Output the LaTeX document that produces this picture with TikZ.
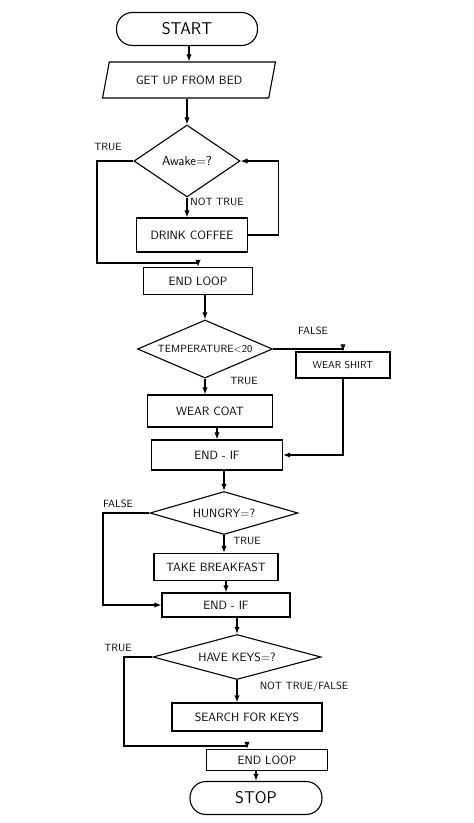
\documentclass[tikz,border=0pt]{standalone}
\usepackage{tikz}
\usetikzlibrary{arrows.meta,shapes.geometric}

\begin{document}
\begin{tikzpicture}[
    x=1pt, y=-1pt,
    box/.style={
        draw,
        line width=1.1pt,
        align=center,
        inner sep=2pt,
        font=\sffamily\fontsize{12}{14}\selectfont
    },
    termbox/.style={
        box,
        rounded corners=16pt,
        font=\sffamily\fontsize{17}{20}\selectfont
    },
    iobox/.style={
        box,
        trapezium,
        trapezium left angle=70,
        trapezium right angle=110,
        trapezium stretches=true
    },
    decision/.style={
        box,
        diamond,
        inner sep=0pt
    },
    lbl/.style={font=\sffamily\fontsize{10.5}{12}\selectfont},
    arrow/.style={-{Latex[length=2.5mm]}, line width=1.1pt}
]
\useasboundingbox (0,0) rectangle (474,823);

% terminals and steps
\node[termbox, minimum width=141pt, minimum height=33pt] (start) at (187,29) {START};
\node[iobox, minimum width=173pt, minimum height=36pt] (getup) at (189,80) {GET UP FROM BED};
\node[decision, shape aspect=1.5, minimum width=106pt, minimum height=72pt,
      font=\sffamily\fontsize{13}{15}\selectfont] (awake) at (187,161) {Awake=?};
\node[box, minimum width=111pt, minimum height=34pt] (drink) at (192,235) {DRINK COFFEE};
\node[box, minimum width=109pt, minimum height=27pt] (endloop) at (198,281) {END LOOP};

\node[decision, shape aspect=2.3, minimum width=135pt, minimum height=58pt,
      font=\sffamily\fontsize{10.5}{12}\selectfont] (temp) at (205,349) {TEMPERATURE\textless20};
\node[box, minimum width=94pt, minimum height=26pt,
      font=\sffamily\fontsize{10}{12}\selectfont] (shirt) at (343,365) {WEAR SHIRT};
\node[box, minimum width=125pt, minimum height=32pt] (coat) at (210,411) {WEAR COAT};
\node[box, minimum width=131pt, minimum height=30pt] (endif) at (217,455) {END - IF};

\node[decision, shape aspect=3.4, minimum width=148pt, minimum height=43pt] (hungry) at (224,513) {HUNGRY=?};
\node[box, minimum width=124pt, minimum height=27pt] (breakfast) at (216,567) {TAKE BREAKFAST};
\node[box, minimum width=128pt, minimum height=24pt] (endiftwo) at (226,605) {END - IF};

\node[decision, shape aspect=3.7, minimum width=168pt, minimum height=45pt] (keys) at (237,657) {HAVE KEYS=?};
\node[box, minimum width=150pt, minimum height=28pt] (search) at (247,717) {SEARCH FOR KEYS};
\node[box, minimum width=121pt, minimum height=21pt] (endlooptwo) at (267,760) {END LOOP};
\node[termbox, minimum width=132pt, minimum height=33pt] (stop) at (256,798) {STOP};

% branch labels
\node[lbl] (lawaketrue) at (108,147) {TRUE};
\node[lbl] (lawakenot) at (217,202) {NOT TRUE};
\node[lbl] (ltempfalse) at (313,331) {FALSE};
\node[lbl] (ltemptrue) at (244,381) {TRUE};
\node[lbl] (lhungryfalse) at (118,504) {FALSE};
\node[lbl] (lhungrytrue) at (247,541) {TRUE};
\node[lbl] (lkeystrue) at (118,648) {TRUE};
\node[lbl] (lkeysnot) at (304,687) {NOT TRUE/FALSE};

\coordinate (awakeleft) at (97,263);
\coordinate (hungryleft) at (103,605);
\coordinate (keysleft) at (124,746);

% connectors
\draw[arrow] (start.south -| getup.north) -- (getup.north);
\draw[arrow] (getup.south -| awake.north) -- (awake.north);
\draw[arrow] (awake.south) -- (awake.south |- drink.north);
\draw[arrow] (drink.east) -- ++(30,0) |- (awake.east);
\draw[arrow] (awake.west) -| (awakeleft) -| (endloop.north);
\draw[arrow] (endloop.south -| temp.north) -- (temp.north);

\draw[arrow] (temp.east) -| (shirt.north);
\draw[arrow] (temp.south) -- (temp.south |- coat.north);
\draw[arrow] (coat.south -| endif.north) -- (endif.north);
\draw[arrow] (shirt.south) |- (endif.east);
\draw[arrow] (endif.south -| hungry.north) -- (hungry.north);

\draw[arrow] (hungry.south) -- (hungry.south |- breakfast.north);
\draw[arrow] (hungry.west) -| (hungryleft) -- (endiftwo.west);
\draw[arrow] (breakfast.south -| endiftwo.north) -- (endiftwo.north);
\draw[arrow] (endiftwo.south -| keys.north) -- (keys.north);

\draw[arrow] (keys.south) -- (keys.south |- search.north);
\draw[arrow] (keys.west) -| (keysleft) -| (endlooptwo.north -| search);
\draw[arrow] (endlooptwo.south -| stop.north) -- (stop.north);
\end{tikzpicture}
\end{document}
